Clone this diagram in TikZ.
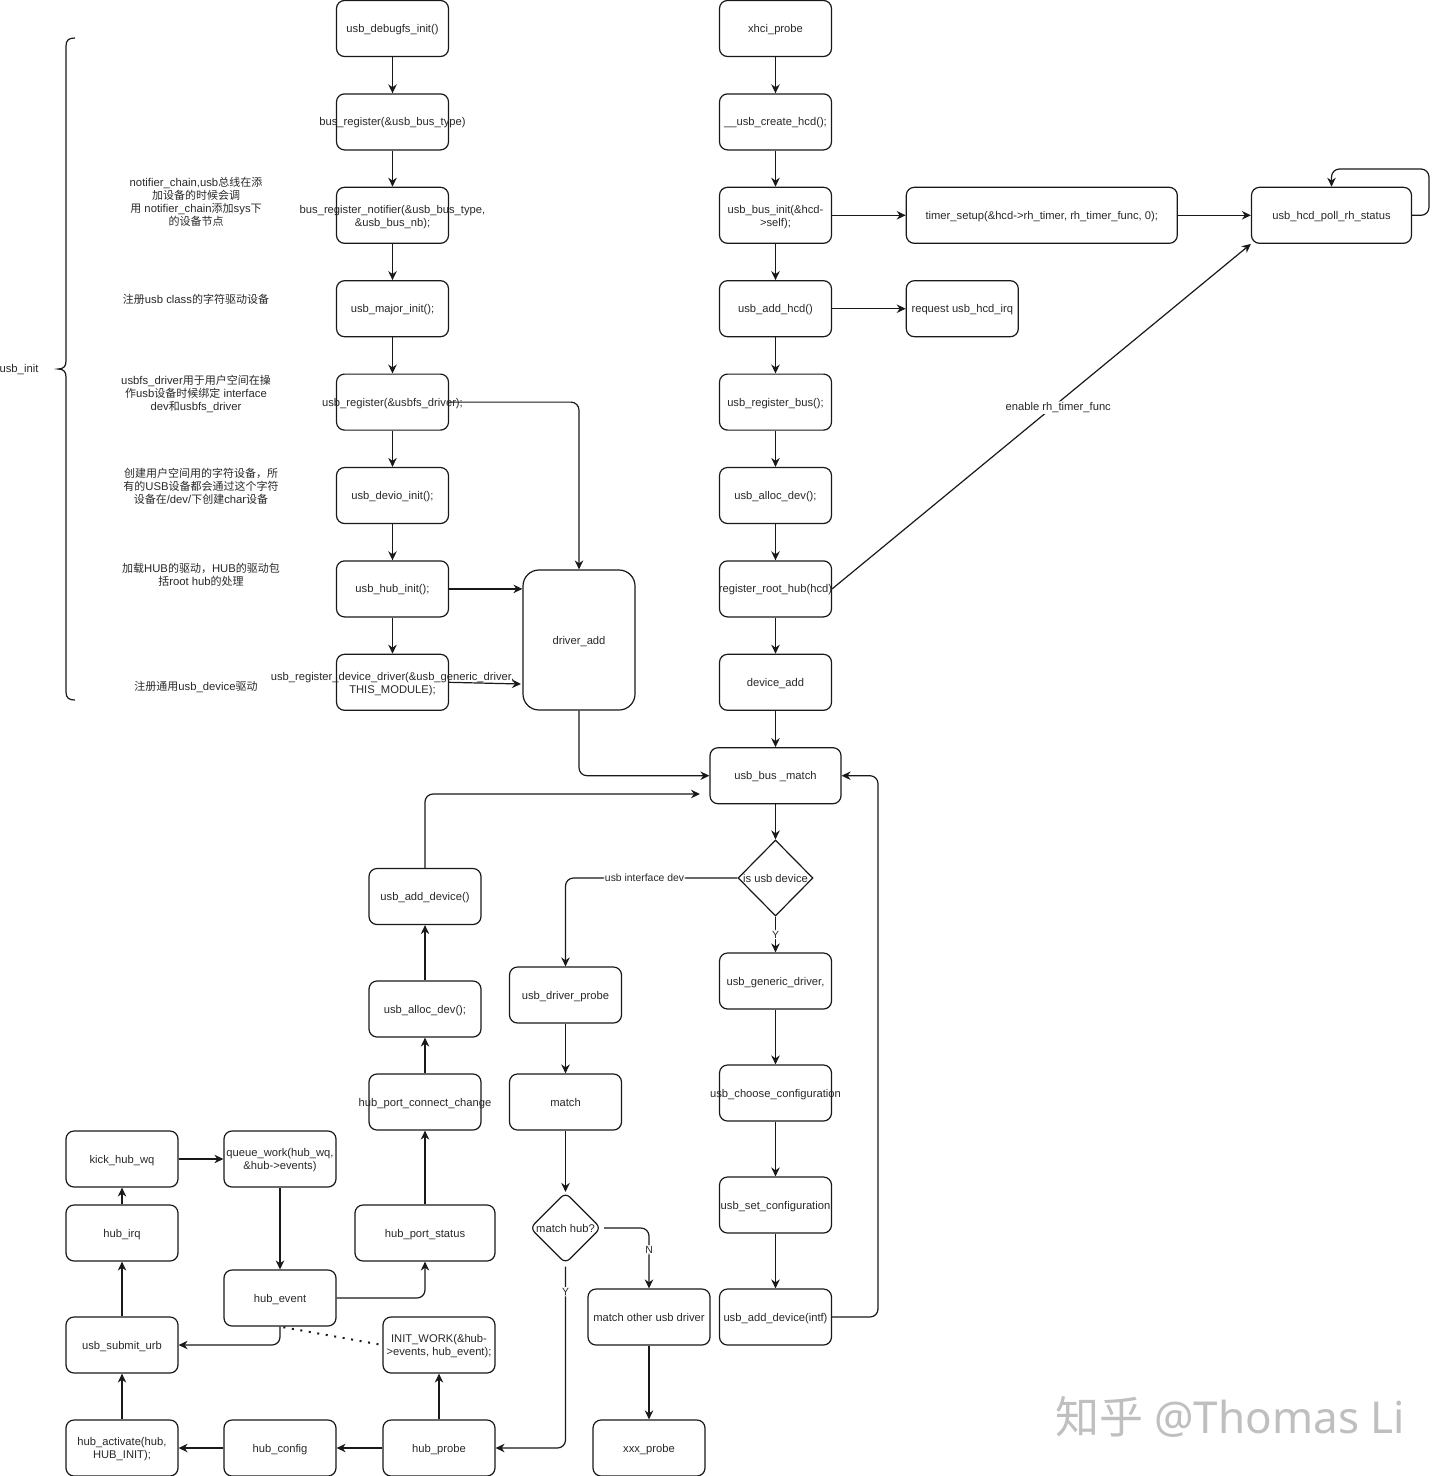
\documentclass[tikz,border=0pt]{standalone}
\usepackage{fontspec}
\setmainfont{Liberation Sans}
\newfontfamily\cjk{Noto Sans CJK SC}
\usepackage{xcolor}
\usetikzlibrary{positioning,arrows.meta,shapes.geometric}
\definecolor{textgray}{RGB}{40,40,40}
\definecolor{linegray}{RGB}{25,25,25}
\newcommand{\wide}[1]{\makebox[0pt]{#1}}
\newcommand{\zh}[1]{{\cjk\fontsize{11}{13}\selectfont #1}}

\begin{document}
\begin{tikzpicture}[
  x=1pt, y=-1pt,
  node distance=36.2pt,
  box/.style={rectangle, draw=linegray, line width=1.2pt, rounded corners=8pt, minimum width=112pt,
              minimum height=56pt, inner sep=0pt, align=center, text=textgray,
              font=\fontsize{11.2}{13}\selectfont,
              execute at begin node={\rule[-3pt]{0pt}{14pt}}},
  decision/.style={diamond, draw=linegray, line width=1.2pt, inner sep=0pt, aspect=1, text=textgray,
              font=\fontsize{11.2}{13}\selectfont},
  note/.style={inner sep=0pt, align=center, text=textgray, font=\fontsize{11.3}{13}\selectfont},
  edgelabel/.style={fill=white, inner sep=1pt, text=textgray, font=\fontsize{10.4}{12}\selectfont},
  arrow/.style={-{Stealth[length=9pt,width=8.5pt]}, line width=1.2pt, draw=linegray, rounded corners=8pt},
  dotline/.style={line width=2pt, draw=linegray, dash pattern=on 2pt off 6.6pt}
]
\useasboundingbox (0,0) rectangle (1440,1476);

% Left column
\node[box] (debugfs_init) at (392.5,28.5) {usb\_debugfs\_init()};
\node[box, below=of debugfs_init] (bus_register) {\wide{bus\_register(\&usb\_bus\_type)}};
\node[box, below=of bus_register] (bus_notifier) {\\\wide{bus\_register\_notifier(\&usb\_bus\_type,}\\\wide{\&usb\_bus\_nb);}};
\node[box, below=of bus_notifier] (major_init) {usb\_major\_init();};
\node[box, below=of major_init] (usb_register) {\wide{usb\_register(\&usbfs\_driver);}};
\node[box, below=of usb_register] (devio_init) {usb\_devio\_init();};
\node[box, below=of devio_init] (hub_init) {usb\_hub\_init();};
\node[box, below=of hub_init] (device_driver) {\\\wide{usb\_register\_device\_driver(\&usb\_generic\_driver,}\\\wide{THIS\_MODULE);}};
\node[box, minimum height=140pt, rounded corners=16pt] (driver_add) at (579,640) {driver\_add};

% Right column
\node[box] (xhci_probe) at (775.5,28.5) {xhci\_probe};
\node[box, below=of xhci_probe] (create_hcd) {\_\_usb\_create\_hcd();};
\node[box, below=of create_hcd] (bus_init) {\\usb\_bus\_init(\&hcd-\\>self);};
\node[box, below=of bus_init] (add_hcd) {usb\_add\_hcd()};
\node[box, below=of add_hcd] (register_bus) {usb\_register\_bus();};
\node[box, below=of register_bus] (alloc_dev) {usb\_alloc\_dev();};
\node[box, below=of alloc_dev] (root_hub) {\wide{register\_root\_hub(hcd)}};
\node[box, below=of root_hub] (device_add) {device\_add};
\node[box, below=of device_add, minimum width=131pt] (bus_match) {usb\_bus \_match};
\node[decision, minimum width=75pt, minimum height=76pt] (is_usb) at (775.5,878) {\wide{is usb device}};
\node[box] (generic_driver) at (775.5,981) {usb\_generic\_driver,};
\node[box] (choose_config) at (775.5,1093) {\wide{usb\_choose\_configuration}};
\node[box] (set_config) at (775.5,1205) {\wide{usb\_set\_configuration}};
\node[box] (add_intf) at (775.5,1317) {\wide{usb\_add\_device(intf)}};

% Top right
\node[box, minimum width=271pt, right=73.6pt of bus_init] (timer_setup) {timer\_setup(\&hcd->rh\_timer, rh\_timer\_func, 0);};
\node[box, minimum width=160pt, right=73pt of timer_setup] (poll_status) {usb\_hcd\_poll\_rh\_status};
\node[box, right=73.6pt of add_hcd] (hcd_irq) {\wide{request usb\_hcd\_irq}};

% Middle
\node[box] (add_device) at (425,896.5) {usb\_add\_device()};
\node[box] (alloc_dev_b) at (425,1009) {usb\_alloc\_dev();};
\node[box] (connect_change) at (425,1102) {\wide{hub\_port\_connect\_change}};
\node[box, minimum width=140pt] (port_status) at (425,1233) {hub\_port\_status};
\node[box] (driver_probe) at (565.5,995) {usb\_driver\_probe};
\node[box] (match) at (565.5,1102) {match};
\node[decision, minimum width=71pt, minimum height=71pt, rounded corners=6pt] (match_hub) at (565.5,1228) {\wide{match hub?}};
\node[box, minimum width=122pt] (match_other) at (649,1317) {match other usb driver};
\node[box] (xxx_probe) at (649,1448) {xxx\_probe};

% Bottom left
\node[box] (kick_wq) at (122,1159) {kick\_hub\_wq};
\node[box] (queue_work) at (280,1159) {\\[-2pt]\wide{queue\_work(hub\_wq,}\\\&hub->events)};
\node[box] (hub_irq) at (122,1233) {hub\_irq};
\node[box] (hub_event) at (280,1298) {hub\_event};
\node[box] (submit_urb) at (122,1345) {usb\_submit\_urb};
\node[box] (init_work) at (439,1345) {\\[-2pt]INIT\_WORK(\&hub-\\>events, hub\_event);};
\node[box] (hub_activate) at (122,1448) {\\[-2pt]hub\_activate(hub,\\HUB\_INIT);};
\node[box] (hub_config) at (280,1448) {hub\_config};
\node[box] (hub_probe) at (439,1448) {hub\_probe};

% Notes
\node[note] (init_label) at (19,369.5) {usb\_init};
\node[note] (note_chain) at (196,202) {notifier\_chain,usb\zh{总线在添}\\\zh{加设备的时候会调}\\\zh{用} notifier\_chain\zh{添加}sys\zh{下}\\\zh{的设备节点}};
\node[note] (note_class) at (196,299.5) {\zh{注册}usb class\zh{的字符驱动设备}};
\node[note] (note_usbfs) at (196,393.5) {usbfs\_driver\zh{用于用户空间在操}\\\zh{作}usb\zh{设备时候绑定} interface\\dev\zh{和}usbfs\_driver};
\node[note] (note_char) at (201,486) {\zh{创建用户空间用的字符设备，所}\\\zh{有的}USB\zh{设备都会通过这个字符}\\\zh{设备在}/dev/\zh{下创建}char\zh{设备}};
\node[note] (note_hub) at (201,575) {\zh{加载}HUB\zh{的驱动，}HUB\zh{的驱动包}\\\zh{括}root hub\zh{的处理}};
\node[note] (note_generic) at (196,687) {\zh{注册通用}usb\_device\zh{驱动}};

% Watermark
\node[inner sep=0pt, text=gray!50] (watermark) at (1230,1417) {{\cjk\fontsize{44}{48}\selectfont 知乎}\fontspec{Noto Sans}\fontsize{44}{48}\selectfont{} @Thomas Li};

% Brace
\draw[line width=1.2pt, draw=linegray] (75,38) .. controls (69,38) and (66,40) .. (66,46) -- (66,361)
  .. controls (66,366) and (64,369) .. (58,369) .. controls (64,369) and (66,372) .. (66,377)
  -- (66,692) .. controls (66,698) and (69,700) .. (75,700);

% Free ends and bends
\coordinate (driver_add_in) at (521,684);
\coordinate (bus_match_in) at (700,794);
\coordinate (return_bend) at (878,1317);
\coordinate (poll_loop) at (1429,169);

% Arrows
\draw[arrow] (debugfs_init) -- (bus_register);
\draw[arrow] (bus_register) -- (bus_notifier);
\draw[arrow] (bus_notifier) -- (major_init);
\draw[arrow] (major_init) -- (usb_register);
\draw[arrow] (usb_register) -- (devio_init);
\draw[arrow] (devio_init) -- (hub_init);
\draw[arrow] (hub_init) -- (device_driver);
\draw[arrow] (usb_register.east) -| (driver_add.north);
\draw[arrow] (hub_init.east) -- (hub_init.east -| driver_add.west);
\draw[arrow] (device_driver.east) -- (driver_add_in);
\draw[arrow] (driver_add.south) |- (bus_match.west);

\draw[arrow] (xhci_probe) -- (create_hcd);
\draw[arrow] (create_hcd) -- (bus_init);
\draw[arrow] (bus_init) -- (add_hcd);
\draw[arrow] (add_hcd) -- (register_bus);
\draw[arrow] (register_bus) -- (alloc_dev);
\draw[arrow] (alloc_dev) -- (root_hub);
\draw[arrow] (root_hub) -- (device_add);
\draw[arrow] (device_add) -- (bus_match);
\draw[arrow] (bus_match) -- (is_usb);
\draw[arrow] (is_usb.south) -- node[edgelabel, pos=0.5] (label_y) {Y} (generic_driver.north);
\draw[arrow] (generic_driver) -- (choose_config);
\draw[arrow] (choose_config) -- (set_config);
\draw[arrow] (set_config) -- (add_intf);
\draw[arrow] (add_intf.east) -- (return_bend) |- (bus_match.east);

\draw[arrow] (bus_init) -- (timer_setup);
\draw[arrow] (timer_setup) -- (poll_status);
\draw[arrow] (add_hcd) -- (hcd_irq);
\draw[arrow] (root_hub.east) -- node[edgelabel, pos=0.54, yshift=-5pt, font=\fontsize{11.2}{13}\selectfont] (label_enable) {enable rh\_timer\_func} (poll_status.south west);
\draw[arrow] (poll_status.east) -| (poll_loop) -| (poll_status.north);

\draw[arrow] (is_usb.west) -| node[edgelabel, pos=0.27] (label_dev) {usb interface dev} (driver_probe.north);
\draw[arrow] (driver_probe) -- (match);
\draw[arrow] (match) -- (match_hub);
\draw[arrow, shorten <=2.5pt] (match_hub.east) -| node[edgelabel, pos=0.68] (label_n) {N} (match_other.north);
\draw[arrow] (match_other) -- (xxx_probe);
\draw[arrow, shorten <=2.5pt] (match_hub.south) |- node[edgelabel, pos=0.075] (label_yes) {Y} (hub_probe.east);

\draw[arrow] (hub_probe) -- (hub_config);
\draw[arrow] (hub_config) -- (hub_activate);
\draw[arrow] (hub_probe) -- (init_work);
\draw[arrow] (hub_activate) -- (submit_urb);
\draw[arrow] (submit_urb) -- (hub_irq);
\draw[arrow] (hub_irq) -- (kick_wq);
\draw[arrow] (kick_wq) -- (queue_work);
\draw[arrow] (queue_work) -- (hub_event);
\draw[arrow] (hub_event.south) |- (submit_urb.east);
\draw[arrow] (hub_event.east) -| (port_status.south);
\draw[arrow] (port_status) -- (connect_change);
\draw[arrow] (connect_change) -- (alloc_dev_b);
\draw[arrow] (alloc_dev_b) -- (add_device);
\draw[arrow] (add_device.north) |- (bus_match_in);
\draw[dotline, shorten <=4pt] (init_work.west) -- (hub_event.south);

\end{tikzpicture}
\end{document}
